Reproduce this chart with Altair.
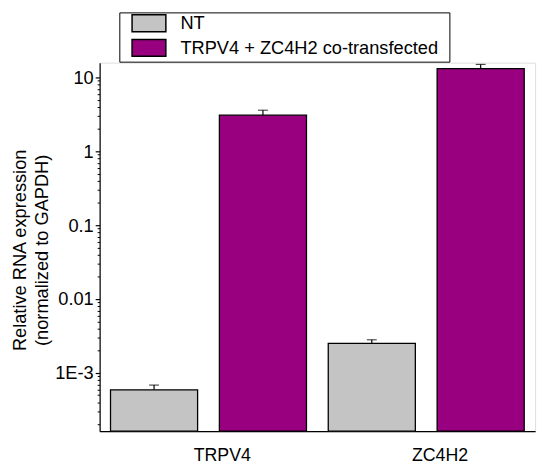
import altair as alt
import pandas as pd
import math

# ---- data ----
genes = ["TRPV4", "TRPV4", "ZC4H2", "ZC4H2"]
groups = ["NT", "TRPV4 + ZC4H2 co-transfected", "NT", "TRPV4 + ZC4H2 co-transfected"]
means = [5.9e-4, 3.08, 2.51e-3, 13.2]
upper = [6.85e-4, 3.6, 2.81e-3, 15.0]

group_order = ["NT", "TRPV4 + ZC4H2 co-transfected"]
group_colors = ["#C4C4C4", "#990080"]

y_tick_values = [0.001, 0.01, 0.1, 1, 10]
y_tick_labels = ["1E-3", "0.01", "0.1", "1", "10"]
y_domain = [1.63e-4, 15.85]
y_title = ["Relative RNA expression", "(normalized to GAPDH)"]

df = pd.DataFrame({"gene": genes, "group": groups, "mean": means, "upper": upper})

FONT = "Liberation Sans"

# label expression from the tick lists
expr = "''"
for v, lab in reversed(list(zip(y_tick_values, y_tick_labels))):
    expr = f"abs(log(datum.value)/LN10 - ({math.log10(v):.4f})) < 0.01 ? '{lab}' : " + expr
label_expr = expr

minor_values = []
for e in range(-4, 2):
    for m in range(2, 10):
        val = m * 10 ** e
        if y_domain[0] <= val <= y_domain[1]:
            minor_values.append(float(f"{val:.6g}"))

yscale = alt.Scale(type="log", domain=y_domain, nice=False)

x_axis = alt.Axis(
    title=None, ticks=False, tickSize=0, labelAngle=0, labelFont=FONT,
    labelFontSize=18, labelColor="black", labelPadding=16, labelOffset=14,
    domainColor="black", domainWidth=1.2, grid=False,
)
x_enc = alt.X("gene:N", axis=x_axis, sort=["TRPV4", "ZC4H2"],
              scale=alt.Scale(paddingInner=0, paddingOuter=0))
xoff = alt.XOffset("group:N", sort=group_order,
                   scale=alt.Scale(paddingInner=0.2, paddingOuter=0.1))

sym_path = "M36,0L36,0M-1,-1H3V1H-1Z"

bars = alt.Chart(df).mark_bar(stroke="black", strokeWidth=1.3).encode(
    x=x_enc,
    xOffset=xoff,
    y=alt.Y("mean:Q", scale=yscale, stack=None, axis=alt.Axis(
        values=y_tick_values, labelExpr=label_expr, orient="left",
        title=y_title, titleFont=FONT, titleFontSize=18.5, titleFontWeight="normal",
        titleColor="black", titleLineHeight=22, titleX=-71, titleY=190,
        titleAngle=-90, titleBaseline="bottom", titleAlign="center",
        labelFont=FONT, labelFontSize=18.5, labelColor="black", labelPadding=2,
        tickSize=4.5, tickColor="black", tickWidth=1.2,
        domainColor="black", domainWidth=1.2, grid=False,
    )),
    color=alt.Color("group:N", sort=group_order,
                    scale=alt.Scale(domain=group_order, range=group_colors),
                    legend=alt.Legend(
                        orient="none", legendX=20, legendY=-51, title=None,
                        padding=1.5, strokeColor="black", fillColor="white",
                        symbolType=sym_path, symbolSize=294,
                        symbolStrokeColor="black", symbolStrokeWidth=1.5,
                        symbolOpacity=1, symbolOffset=10.5,
                        labelFont=FONT, labelFontSize=18.5, labelColor="black",
                        labelOffset=31, rowPadding=0, labelLimit=400,
                    )),
)

err = alt.Chart(df).mark_rule(color="black", strokeWidth=1.2).encode(
    x=x_enc,
    xOffset=xoff,
    y=alt.Y("mean:Q", scale=yscale, stack=None, axis=alt.Axis(
        values=minor_values, labels=False, domain=False, title=None, orient="left",
        tickSize=2.5, tickColor="black", tickWidth=1, grid=False,
    )),
    y2="upper:Q",
)

caps = alt.Chart(df).mark_tick(color="black", thickness=1.2, size=10, orient="horizontal").encode(
    x=x_enc,
    xOffset=xoff,
    y=alt.Y("upper:Q", scale=yscale, stack=None, axis=None),
)

chart = alt.layer(bars, err, caps).resolve_scale(y="shared").resolve_axis(y="independent").properties(
    width=442, height=374,
    autosize=alt.AutoSizeParams(type="none"),
    padding={"left": 93, "top": 52, "right": 7, "bottom": 38},
).configure_view(stroke=None).configure(background="white")

chart.save("out.html", embed_options={"renderer": "svg", "actions": False})
